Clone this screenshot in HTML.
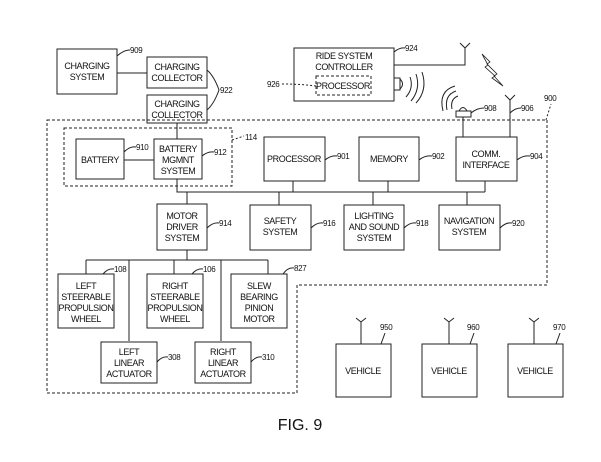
<!DOCTYPE html>
<html><head><meta charset="utf-8"><style>body{margin:0;background:#fff}svg{display:block}</style></head><body>
<svg width="601" height="462" viewBox="0 0 601 462" xmlns="http://www.w3.org/2000/svg" font-family="Liberation Sans, sans-serif" font-size="9" fill="none" stroke="#222" stroke-width="1">
<g>
<rect x="57" y="49" width="60" height="45"/>
<rect x="147" y="57" width="60" height="31"/>
<rect x="147" y="95" width="60" height="28"/>
<line x1="117" y1="73" x2="147" y2="73"/>
<path d="M207 70 Q214 76 219 90 Q214 104 207 110"/>
<path d="M117 56 Q124 50 130 50"/>
<path d="M47 120 H547 V285 H297 V393 H47 Z" stroke-dasharray="3,2"/>
<path d="M64 128 H232 V186 H64 Z" stroke-dasharray="3,2"/>
<path d="M232 140 L244 136" stroke-dasharray="2,2"/>
<path d="M546 120 L551 104" stroke-dasharray="2,2"/>
<line x1="177" y1="123" x2="177" y2="139"/>
<rect x="76" y="139" width="48" height="40"/>
<rect x="154" y="139" width="48" height="40"/>
<line x1="124" y1="160" x2="154" y2="160"/>
<path d="M124 152 Q130 146 136 147"/>
<path d="M202 156 Q208 151 214 152"/>
<rect x="264" y="137" width="61" height="44"/>
<rect x="359" y="137" width="60" height="44"/>
<rect x="456" y="137" width="61" height="44"/>
<path d="M325 160 Q331 155 337 156"/><path d="M419 160 Q425 155 432 156"/><path d="M517 160 Q523 155 530 156"/>
<path d="M177 179 V192 H485"/>
<line x1="293" y1="181" x2="293" y2="192"/><line x1="388" y1="181" x2="388" y2="192"/><line x1="485" y1="181" x2="485" y2="192"/>
<line x1="187" y1="192" x2="187" y2="204"/><line x1="279" y1="192" x2="279" y2="205"/><line x1="373" y1="192" x2="373" y2="205"/><line x1="467" y1="192" x2="467" y2="205"/>
<rect x="157" y="204" width="50" height="46"/>
<rect x="250" y="205" width="61" height="45"/>
<rect x="344" y="205" width="60" height="45"/>
<rect x="439" y="205" width="61" height="45"/>
<path d="M207 228 Q213 222 219 223"/><path d="M311 228 Q317 222 323 223"/><path d="M404 228 Q410 222 416 223"/><path d="M500 228 Q506 222 512 223"/>
<path d="M187 250 V260"/><path d="M86 260 H268"/>
<line x1="86" y1="260" x2="86" y2="274"/><line x1="129" y1="260" x2="129" y2="341"/><line x1="174" y1="260" x2="174" y2="274"/><line x1="221" y1="260" x2="221" y2="341"/><line x1="268" y1="260" x2="268" y2="274"/>
<rect x="58" y="274" width="56" height="54"/>
<rect x="147" y="274" width="56" height="54"/>
<rect x="231" y="274" width="56" height="54"/>
<rect x="101" y="342" width="56" height="41"/>
<rect x="195" y="342" width="56" height="41"/>
<path d="M103 274 Q108 268 114 269"/><path d="M192 274 Q197 268 203 269"/><path d="M283 274 Q288 267 294 268"/>
<path d="M157 362 Q162 356 168 357"/><path d="M251 362 Q256 356 262 357"/>
<rect x="294" y="48" width="100" height="53"/>
<rect x="316" y="76" width="55" height="19" stroke-dasharray="3,2"/>
<path d="M282 84 Q300 84 316 86" stroke-dasharray="2,2"/>
<path d="M394 52 Q400 47 405 48"/>
<path d="M394 65 H465 V48 M465 48 L460 43 M465 48 L470 43"/>
<path d="M482 54 L490 62 L487 64 L497 74 L494 76 L503 86 L492 78 L495 76 L485 67 L488 65 Z" stroke-width="0.8"/>
<rect x="394" y="78" width="6" height="12"/><path d="M400 79 Q405 84 400 89"/>
<path d="M406 97 Q414 88 410 77"/><path d="M411 101 Q421 89 416 74"/><path d="M416 103 Q428 90 422 72"/>
<rect x="456" y="111" width="15" height="6"/><path d="M459 111 Q463 104 467 111"/>
<line x1="463" y1="117" x2="463" y2="137"/>
<path d="M452 109 Q450 99 458 96"/><path d="M447 110 Q444 95 456 91"/><path d="M443 111 Q438 91 455 86"/>
<path d="M471 113 Q477 108 484 108"/>
<path d="M510 137 V100 M510 100 L505 95 M510 100 L515 95"/>
<path d="M510 113 Q515 108 521 108"/>
<rect x="336" y="344" width="55" height="53"/><rect x="422" y="344" width="55" height="53"/><rect x="508" y="344" width="55" height="53"/>
<path d="M361 344 V322 M361 322 L356 318 M361 322 L366 318"/>
<path d="M449 344 V322 M449 322 L444 318 M449 322 L454 318"/>
<path d="M534 344 V322 M534 322 L529 318 M534 322 L539 318"/>
<path d="M381 344 L385 333"/><path d="M470 344 L474 333"/><path d="M556 344 L560 333"/>
</g>
<g fill="#111" stroke="none" text-anchor="middle" letter-spacing="-0.4">
<text x="87" y="69">CHARGING</text><text x="87" y="80">SYSTEM</text>
<text x="177" y="70">CHARGING</text><text x="177" y="81">COLLECTOR</text>
<text x="177" y="107">CHARGING</text><text x="177" y="118">COLLECTOR</text>
<text x="100" y="163">BATTERY</text>
<text x="178" y="152">BATTERY</text><text x="178" y="163">MGMNT</text><text x="178" y="174">SYSTEM</text>
<text x="294" y="162">PROCESSOR</text>
<text x="389" y="162">MEMORY</text>
<text x="486" y="157">COMM.</text><text x="486" y="168">INTERFACE</text>
<text x="182" y="219">MOTOR</text><text x="182" y="230">DRIVER</text><text x="182" y="241">SYSTEM</text>
<text x="280" y="224">SAFETY</text><text x="280" y="235">SYSTEM</text>
<text x="374" y="219">LIGHTING</text><text x="374" y="230">AND SOUND</text><text x="374" y="241">SYSTEM</text>
<text x="469" y="224">NAVIGATION</text><text x="469" y="235">SYSTEM</text>
<text x="86" y="289">LEFT</text><text x="86" y="300">STEERABLE</text><text x="86" y="311">PROPULSION</text><text x="86" y="322">WHEEL</text>
<text x="175" y="289">RIGHT</text><text x="175" y="300">STEERABLE</text><text x="175" y="311">PROPULSION</text><text x="175" y="322">WHEEL</text>
<text x="259" y="289">SLEW</text><text x="259" y="300">BEARING</text><text x="259" y="311">PINION</text><text x="259" y="322">MOTOR</text>
<text x="129" y="355">LEFT</text><text x="129" y="366">LINEAR</text><text x="129" y="377">ACTUATOR</text>
<text x="223" y="355">RIGHT</text><text x="223" y="366">LINEAR</text><text x="223" y="377">ACTUATOR</text>
<text x="344" y="59">RIDE SYSTEM</text><text x="344" y="70">CONTROLLER</text>
<text x="343" y="89">PROCESSOR</text>
<text x="363" y="374">VEHICLE</text><text x="449" y="374">VEHICLE</text><text x="535" y="374">VEHICLE</text>
<text x="300" y="430" font-size="16" letter-spacing="0">FIG. 9</text>
</g>
<g fill="#111" stroke="none" font-size="8" letter-spacing="-0.3">
<text x="130" y="53">909</text><text x="220" y="93">922</text>
<text x="136" y="150">910</text><text x="214" y="155">912</text><text x="245" y="140">114</text>
<text x="337" y="159">901</text><text x="432" y="159">902</text><text x="530" y="159">904</text>
<text x="219" y="226">914</text><text x="323" y="226">916</text><text x="416" y="226">918</text><text x="512" y="226">920</text>
<text x="114" y="272">108</text><text x="203" y="272">106</text><text x="294" y="271">827</text>
<text x="168" y="360">308</text><text x="262" y="360">310</text>
<text x="405" y="51">924</text><text x="267" y="87">926</text>
<text x="484" y="111">908</text><text x="521" y="111">906</text><text x="544" y="101">900</text>
<text x="380" y="330">950</text><text x="467" y="330">960</text><text x="553" y="330">970</text>
</g>
</svg>
</body></html>
